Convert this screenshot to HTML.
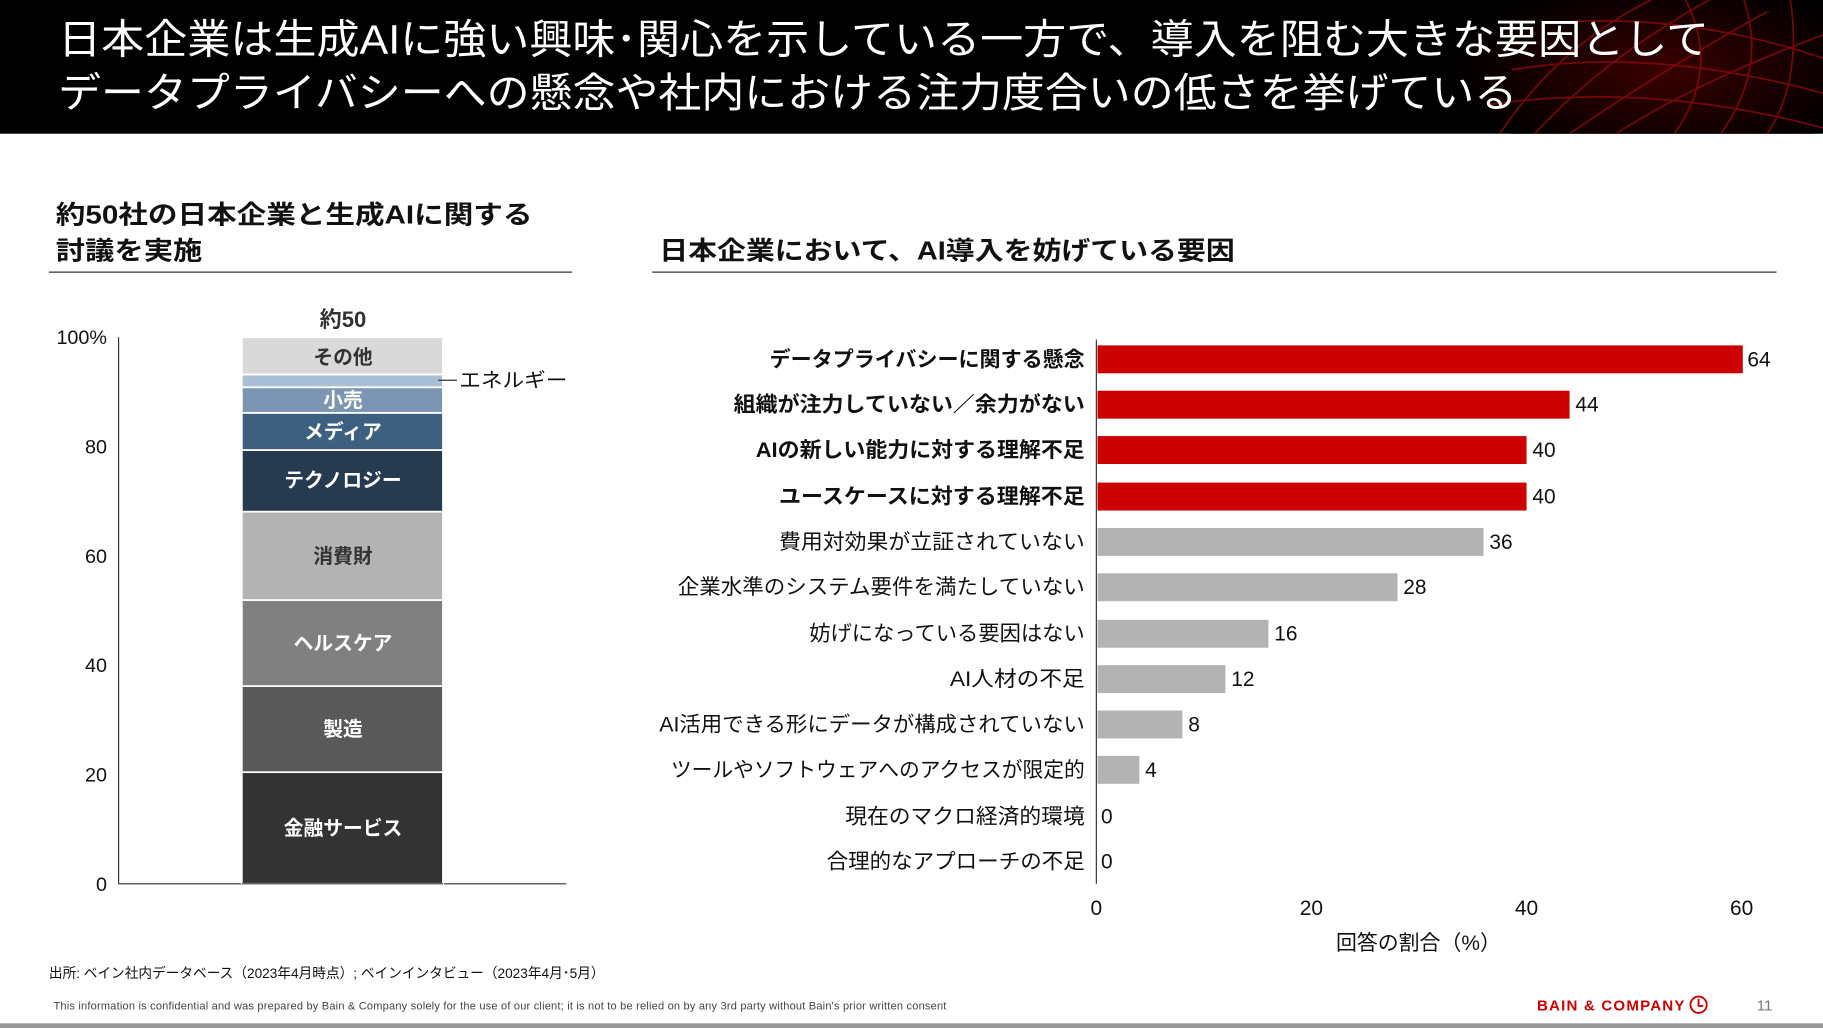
<!DOCTYPE html>
<html><head><meta charset="utf-8"><style>
html,body{margin:0;padding:0;background:#fff;}
svg{display:block;}
text{font-family:"Liberation Sans","Noto Sans CJK JP",sans-serif;}
</style></head><body>
<svg width="1823" height="1028" viewBox="0 0 1568 884" preserveAspectRatio="none" xmlns="http://www.w3.org/2000/svg">
<defs>
<radialGradient id="rg" cx="0.5" cy="0.5" r="0.5"><stop offset="0" stop-color="#3a0000"/><stop offset="1" stop-color="#000"/></radialGradient>
<clipPath id="hc"><rect x="0" y="0" width="1568" height="115"/></clipPath>
</defs>
<rect x="0" y="0" width="1568" height="115" fill="#000"/>
<g clip-path="url(#hc)">
<ellipse cx="1430" cy="60" rx="180" ry="80" fill="url(#rg)"/>
<g stroke="#8a0a0a" stroke-width="1.5" fill="none" opacity="0.8">
<path d="M1290 115 Q1340 40 1420 0"/>
<path d="M1320 115 Q1380 50 1470 0"/>
<path d="M1350 115 Q1430 60 1520 10"/>
<path d="M1390 115 Q1460 70 1568 30"/>
<path d="M1440 115 Q1480 60 1450 0"/>
<path d="M1480 115 Q1520 60 1500 0"/>
<path d="M1520 115 Q1550 70 1540 0"/>
<path d="M1300 60 Q1420 40 1568 80"/>
<path d="M1280 90 Q1420 70 1568 110"/>
<path d="M1330 20 Q1450 10 1568 50"/>
</g>
</g>
<text x="50" y="46" font-size="35" fill="#fff" textLength="1420" lengthAdjust="spacingAndGlyphs">日本企業は生成AIに強い興味･関心を示している一方で、導入を阻む大きな要因として</text>
<text x="50" y="92" font-size="35" fill="#fff" textLength="1255" lengthAdjust="spacingAndGlyphs">データプライバシーへの懸念や社内における注力度合いの低さを挙げている</text>

<text x="48" y="192" font-size="22" font-weight="bold" fill="#111" textLength="410" lengthAdjust="spacingAndGlyphs">約50社の日本企業と生成AIに関する</text>
<text x="48" y="223" font-size="22" font-weight="bold" fill="#111" textLength="126" lengthAdjust="spacingAndGlyphs">討議を実施</text>
<line x1="42" y1="234" x2="492" y2="234" stroke="#333" stroke-width="1"/>
<text x="567" y="223" font-size="22" font-weight="bold" fill="#111" textLength="495" lengthAdjust="spacingAndGlyphs">日本企業において、AI導入を妨げている要因</text>
<line x1="561" y1="234" x2="1528" y2="234" stroke="#333" stroke-width="1"/>

<!-- left chart -->
<g font-size="17" fill="#111" text-anchor="end">
<text x="92" y="296">100%</text><text x="92" y="390">80</text><text x="92" y="484">60</text><text x="92" y="578">40</text><text x="92" y="672">20</text><text x="92" y="766">0</text>
</g>
<line x1="102" y1="290" x2="102" y2="760" stroke="#333"/>
<line x1="102" y1="760" x2="487" y2="760" stroke="#333"/>
<text x="295" y="281" font-size="19" font-weight="bold" text-anchor="middle" fill="#333">約50</text>
<g stroke="#fff" stroke-width="1.5">
<rect x="208" y="664" width="173" height="96" fill="#333"/>
<rect x="208" y="590" width="173" height="74" fill="#595959"/>
<rect x="208" y="516" width="173" height="74" fill="#808080"/>
<rect x="208" y="440" width="173" height="76" fill="#b3b3b3"/>
<rect x="208" y="387" width="173" height="53" fill="#263a50"/>
<rect x="208" y="355" width="173" height="32" fill="#3d5f80"/>
<rect x="208" y="333" width="173" height="22" fill="#7b95b2"/>
<rect x="208" y="322" width="173" height="11" fill="#a9bfd6"/>
<rect x="208" y="290" width="173" height="32" fill="#d9d9d9"/>
</g>
<line x1="208" y1="760" x2="381" y2="760" stroke="#333"/>
<g font-size="17" font-weight="bold" text-anchor="middle">
<text x="295" y="718" fill="#fff">金融サービス</text>
<text x="295" y="633" fill="#fff">製造</text>
<text x="295" y="559" fill="#fff">ヘルスケア</text>
<text x="295" y="484" fill="#333">消費財</text>
<text x="295" y="419" fill="#fff">テクノロジー</text>
<text x="295" y="377" fill="#fff">メディア</text>
<text x="295" y="350" fill="#fff">小売</text>
<text x="295" y="313" fill="#333">その他</text>
</g>
<line x1="377" y1="327" x2="393" y2="327" stroke="#333"/>
<text x="395" y="333" font-size="17" fill="#111" textLength="93" lengthAdjust="spacingAndGlyphs">エネルギー</text>

<!-- right chart -->
<line x1="943" y1="292" x2="943" y2="760" stroke="#333"/>
<g>
<rect x="944" y="297" width="555" height="24" fill="#cc0000"/>
<rect x="944" y="336" width="406" height="24" fill="#cc0000"/>
<rect x="944" y="375" width="369" height="24" fill="#cc0000"/>
<rect x="944" y="415" width="369" height="24" fill="#cc0000"/>
<rect x="944" y="454" width="332" height="24" fill="#b3b3b3"/>
<rect x="944" y="493" width="258" height="24" fill="#b3b3b3"/>
<rect x="944" y="533" width="147" height="24" fill="#b3b3b3"/>
<rect x="944" y="572" width="110" height="24" fill="#b3b3b3"/>
<rect x="944" y="611" width="73" height="24" fill="#b3b3b3"/>
<rect x="944" y="650" width="36" height="24" fill="#b3b3b3"/>
</g>
<g font-size="18" fill="#111">
<text x="1503" y="315">64</text><text x="1355" y="354">44</text><text x="1318" y="393">40</text><text x="1318" y="433">40</text>
<text x="1281" y="472">36</text><text x="1207" y="511">28</text><text x="1096" y="551">16</text><text x="1059" y="590">12</text>
<text x="1022" y="629">8</text><text x="985" y="668">4</text><text x="947" y="708">0</text><text x="947" y="747">0</text>
</g>
<g font-size="18" fill="#111" lengthAdjust="spacingAndGlyphs">
<text x="662" y="315" font-weight="bold" textLength="271" lengthAdjust="spacingAndGlyphs">データプライバシーに関する懸念</text>
<text x="631" y="354" font-weight="bold" textLength="302" lengthAdjust="spacingAndGlyphs">組織が注力していない／余力がない</text>
<text x="650" y="393" font-weight="bold" textLength="283" lengthAdjust="spacingAndGlyphs">AIの新しい能力に対する理解不足</text>
<text x="670" y="433" font-weight="bold" textLength="263" lengthAdjust="spacingAndGlyphs">ユースケースに対する理解不足</text>
<text x="670" y="472" textLength="263" lengthAdjust="spacingAndGlyphs">費用対効果が立証されていない</text>
<text x="583" y="511" textLength="350" lengthAdjust="spacingAndGlyphs">企業水準のシステム要件を満たしていない</text>
<text x="696" y="551" textLength="237" lengthAdjust="spacingAndGlyphs">妨げになっている要因はない</text>
<text x="817" y="590" textLength="116" lengthAdjust="spacingAndGlyphs">AI人材の不足</text>
<text x="567" y="629" textLength="366" lengthAdjust="spacingAndGlyphs">AI活用できる形にデータが構成されていない</text>
<text x="577" y="668" textLength="356" lengthAdjust="spacingAndGlyphs">ツールやソフトウェアへのアクセスが限定的</text>
<text x="727" y="708" textLength="206" lengthAdjust="spacingAndGlyphs">現在のマクロ経済的環境</text>
<text x="711" y="747" textLength="222" lengthAdjust="spacingAndGlyphs">合理的なアプローチの不足</text>
</g>
<g font-size="18" fill="#111" text-anchor="middle">
<text x="943" y="787">0</text><text x="1128" y="787">20</text><text x="1313" y="787">40</text><text x="1498" y="787">60</text>
<text x="1220" y="817">回答の割合（%）</text>
</g>

<text x="42" y="841" font-size="12" fill="#111" textLength="478" lengthAdjust="spacingAndGlyphs">出所: ベイン社内データベース（2023年4月時点）; ベインインタビュー（2023年4月･5月）</text>
<text x="46" y="868" font-size="9.5" fill="#444" textLength="768">This information is confidential and was prepared by Bain &amp; Company solely for the use of our client; it is not to be relied on by any 3rd party without Bain's prior written consent</text>
<text x="1322" y="869" font-size="13" font-weight="bold" fill="#cc0000" letter-spacing="1">BAIN &amp; COMPANY</text>
<circle cx="1461" cy="864" r="7" fill="none" stroke="#cc0000" stroke-width="1.6"/>
<path d="M1461 859 L1461 865 L1465 865" fill="none" stroke="#cc0000" stroke-width="1.6"/>
<text x="1511" y="869" font-size="13" fill="#777">11</text>
<rect x="0" y="880" width="1568" height="4" fill="#999"/>
</svg>
</body></html>
